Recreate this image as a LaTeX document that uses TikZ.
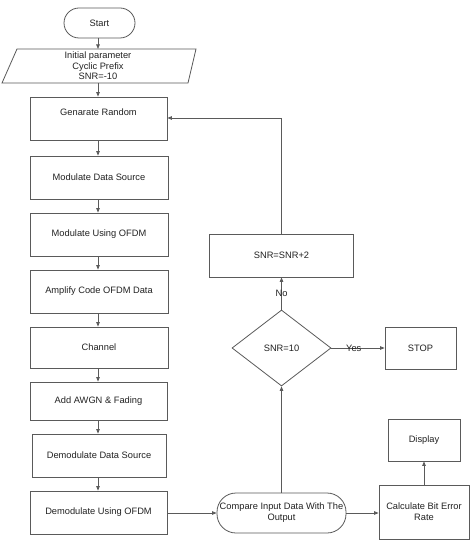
\documentclass[tikz,border=0pt]{standalone}
\usepackage{fontspec}
\setmainfont{Liberation Sans}
\usetikzlibrary{arrows.meta,shapes.geometric}
\definecolor{ln}{HTML}{5A5A5A}
\definecolor{tx}{HTML}{222222}
\begin{document}
\begin{tikzpicture}[x=1pt,y=-1pt,
  every node/.style={font=\fontsize{9.3}{11}\selectfont,text=tx,inner sep=0pt},
  stepbox/.style={draw=ln,line width=0.8pt,rectangle,align=center},
  conn/.style={draw=ln,line width=0.8pt,-{Triangle[length=4.5pt,width=3.5pt]}},
  plain/.style={draw=ln,line width=0.8pt}]
\useasboundingbox (0,0) rectangle (474,545);
\fill[white] (0,0) rectangle (474,545);
% nodes
\node[stepbox,rounded corners=15pt,minimum width=71pt,minimum height=30pt] (start) at (99.5,23) {Start};
\coordinate (ptop) at (98,49);
\coordinate (pbot) at (98,83);
\draw[plain] (17,49) -- (196,49) -- (188,83) -- (2,83) -- cycle;
\node[align=center,font=\fontsize{9.3}{10.5}\selectfont] (param) at (98,66) {Initial parameter\\Cyclic Prefix\\SNR=-10};
\node[stepbox,minimum width=137pt,minimum height=43pt] (gen) at (98.5,118.5) {};
\node (gent) at (98.5,112) {Genarate Random};
\node[stepbox,minimum width=138pt,minimum height=43pt] (mds) at (99,177.5) {Modulate Data Source};
\node[stepbox,minimum width=138pt,minimum height=43pt] (muo) at (99,234.5) {Modulate Using OFDM};
\node[stepbox,minimum width=138pt,minimum height=43pt] (amp) at (99,291.5) {Amplify Code OFDM Data};
\node[stepbox,minimum width=138pt,minimum height=41pt] (ch) at (99,347.5) {Channel};
\node[stepbox,minimum width=137pt,minimum height=38pt] (awgn) at (98.5,401) {Add AWGN \& Fading};
\node[stepbox,minimum width=134pt,minimum height=43pt] (dds) at (99,455.5) {Demodulate Data Source};
\node[stepbox,minimum width=137pt,minimum height=43pt] (duo) at (98.5,512.5) {Demodulate Using OFDM};
\node[stepbox,rounded corners=19pt,minimum width=129pt,minimum height=40pt] (comp) at (281.5,513) {Compare Input Data With The\\Output};
\node[stepbox,minimum width=90pt,minimum height=54pt] (ber) at (424,512) {Calculate Bit Error\\Rate};
\node[stepbox,minimum width=72pt,minimum height=42pt] (disp) at (424,440) {Display};
\node[draw=ln,line width=0.8pt,diamond,minimum width=99pt,minimum height=76pt] (dec) at (281.5,348) {SNR=10};
\node[stepbox,minimum width=71pt,minimum height=42pt] (stop) at (420.5,348) {STOP};
\node[stepbox,minimum width=144pt,minimum height=43pt] (snr) at (281.5,255.5) {SNR=SNR+2};
\coordinate (corner) at (281.5,118);
% connectors
\draw[conn] (start.south -| ptop) -- (ptop);
\draw[conn] (pbot) -- (pbot |- gen.north);
\draw[conn] (gen.south -| 98,0) -- (98,0 |- mds.north);
\draw[conn] (mds.south -| 98,0) -- (98,0 |- muo.north);
\draw[conn] (muo.south -| 98,0) -- (98,0 |- amp.north);
\draw[conn] (amp.south -| 98,0) -- (98,0 |- ch.north);
\draw[conn] (ch.south -| 98,0) -- (98,0 |- awgn.north);
\draw[conn] (awgn.south -| 98,0) -- (98,0 |- dds.north);
\draw[conn] (dds.south -| 98,0) -- (98,0 |- duo.north);
\draw[conn] (duo.east |- comp.west) -- (comp.west);
\draw[conn] (comp.east) -- (ber.west |- comp.east);
\draw[conn] (ber.north) -- (disp.south);
\draw[conn] (comp.north) -- (dec.south);
\draw[conn] (dec.east) -- node[pos=0.42] {Yes} (stop.west);
\draw[conn] (dec.north) -- node[pos=0.5] {No} (snr.south);
\draw[conn] (snr.north) -- (corner) -- (gen.east |- corner);
\end{tikzpicture}
\end{document}
